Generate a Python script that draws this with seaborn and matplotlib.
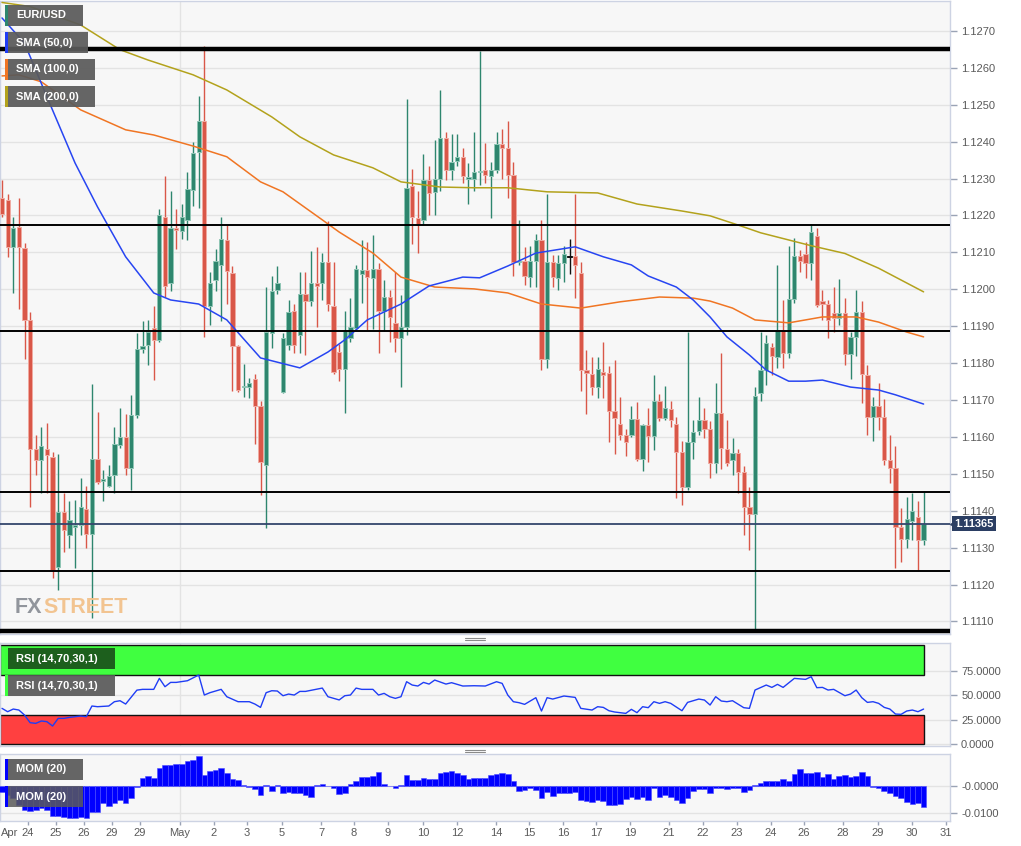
import numpy as np
import pandas as pd
import matplotlib
matplotlib.use("Agg")
import matplotlib.pyplot as plt
import matplotlib.transforms as mtransforms
from matplotlib.patches import Rectangle
from matplotlib.lines import Line2D
import seaborn as sns

sns.set_theme(style="white")
plt.rcParams['font.family'] = ['Liberation Sans', 'DejaVu Sans']

# ---------------- data (4h EUR/USD candles) ----------------
opens = [1.12248, 1.12241, 1.12115, 1.12169, 1.12113, 1.11916, 1.11568, 1.11537, 1.11568, 1.11546,
         1.11248, 1.11396, 1.11335, 1.11355, 1.11362, 1.11406, 1.11338, 1.11541, 1.11480, 1.11468,
         1.11498, 1.11578, 1.11599, 1.11517, 1.11659, 1.11838, 1.11849, 1.11895, 1.11862, 1.12195,
         1.12018, 1.12167, 1.12159, 1.12187, 1.12268, 1.12371, 1.12456, 1.11954, 1.12026, 1.12065,
         1.12133, 1.12044, 1.11845, 1.11734, 1.11734, 1.11756, 1.11683, 1.11524, 1.11882, 1.11998,
         1.11722, 1.11849, 1.11941, 1.11877, 1.11987, 1.11967, 1.12016, 1.12016, 1.12075, 1.11956,
         1.11829, 1.11783, 1.11867, 1.11896, 1.12041, 1.12053, 1.12031, 1.12055, 1.11941, 1.11980,
         1.11908, 1.11869, 1.11898, 1.12279, 1.12193, 1.12187, 1.12295, 1.12264, 1.12299, 1.12410,
         1.12323, 1.12348, 1.12359, 1.12299, 1.12300, 1.12318, 1.12323, 1.12307, 1.12323, 1.12394,
         1.12382, 1.12309, 1.12075, 1.12077, 1.12034, 1.12077, 1.12133, 1.11811, 1.12075, 1.12031,
         1.12072, 1.12087, 1.12089, 1.12043, 1.11780, 1.11770, 1.11734, 1.11775, 1.11773, 1.11670,
         1.11635, 1.11606, 1.11606, 1.11649, 1.11539, 1.11632, 1.11603, 1.11698, 1.11652, 1.11676,
         1.11635, 1.11560, 1.11463, 1.11585, 1.11617, 1.11646, 1.11621, 1.11529, 1.11666, 1.11567,
         1.11538, 1.11556, 1.11506, 1.11409, 1.11391, 1.11718, 1.11781, 1.11843, 1.11816, 1.11890,
         1.11828, 1.11973, 1.12090, 1.12096, 1.12070, 1.12143, 1.11967, 1.11959, 1.11935, 1.11921,
         1.11937, 1.11825, 1.11870, 1.11939, 1.11768, 1.11655, 1.11684, 1.11653, 1.11538, 1.11515,
         1.11357, 1.11324, 1.11371, 1.11384, 1.11321]
highs = [1.12297, 1.12258, 1.12197, 1.12248, 1.12126, 1.11939, 1.11606, 1.11626, 1.11637, 1.11560,
         1.11555, 1.11447, 1.11427, 1.11429, 1.11488, 1.11468, 1.11744, 1.11667, 1.11509, 1.11524,
         1.11626, 1.11678, 1.11662, 1.11713, 1.11882, 1.11913, 1.11918, 1.11956, 1.12217, 1.12307,
         1.12266, 1.12217, 1.12231, 1.12318, 1.12400, 1.12524, 1.12658, 1.12046, 1.12108, 1.12197,
         1.12174, 1.12062, 1.11850, 1.11797, 1.11760, 1.11770, 1.11698, 1.12005, 1.12036, 1.12064,
         1.11882, 1.11970, 1.11959, 1.12046, 1.12046, 1.12105, 1.12115, 1.12097, 1.12185, 1.12074,
         1.11852, 1.11941, 1.11975, 1.12067, 1.12133, 1.12127, 1.12148, 1.12072, 1.12026, 1.11998,
         1.12046, 1.11985, 1.12515, 1.12325, 1.12266, 1.12366, 1.12335, 1.12405, 1.12540, 1.12425,
         1.12420, 1.12420, 1.12384, 1.12343, 1.12425, 1.12645, 1.12397, 1.12346, 1.12425, 1.12435,
         1.12456, 1.12346, 1.12187, 1.12115, 1.12118, 1.12149, 1.12187, 1.12258, 1.12092, 1.12094,
         1.12118, 1.12136, 1.12258, 1.12074, 1.11836, 1.11816, 1.11816, 1.11857, 1.11793, 1.11808,
         1.11708, 1.11621, 1.11685, 1.11695, 1.11634, 1.11678, 1.11768, 1.11716, 1.11739, 1.11698,
         1.11655, 1.11589, 1.11885, 1.11647, 1.11707, 1.11678, 1.11642, 1.11747, 1.11827, 1.11646,
         1.11596, 1.11567, 1.11520, 1.11465, 1.11736, 1.11885, 1.11876, 1.11854, 1.12066, 1.11971,
         1.12116, 1.12138, 1.12107, 1.12127, 1.12177, 1.12165, 1.11998, 1.11971, 1.12005, 1.12027,
         1.11976, 1.11885, 1.11998, 1.11967, 1.11795, 1.11707, 1.11745, 1.11702, 1.11605, 1.11576,
         1.11407, 1.11437, 1.11447, 1.11427, 1.11450]
lows = [1.12195, 1.12087, 1.11990, 1.11947, 1.11811, 1.11409, 1.11498, 1.11449, 1.11449, 1.11217,
        1.11186, 1.11289, 1.11299, 1.11245, 1.11335, 1.11299, 1.11109, 1.11473, 1.11427, 1.11463,
        1.11449, 1.11570, 1.11498, 1.11457, 1.11652, 1.11826, 1.11795, 1.11754, 1.11857, 1.11980,
        1.11995, 1.12108, 1.12135, 1.12133, 1.12225, 1.12220, 1.11872, 1.11903, 1.11995, 1.11913,
        1.11959, 1.11724, 1.11722, 1.11708, 1.11705, 1.11582, 1.11442, 1.11353, 1.11841, 1.11988,
        1.11719, 1.11836, 1.11826, 1.11826, 1.11821, 1.11954, 1.11898, 1.11971, 1.11941, 1.11770,
        1.11752, 1.11665, 1.11857, 1.11890, 1.11964, 1.11890, 1.11893, 1.11826, 1.11888, 1.11857,
        1.11831, 1.11734, 1.11877, 1.12123, 1.12097, 1.12176, 1.12200, 1.12202, 1.12266, 1.12295,
        1.12295, 1.12333, 1.12287, 1.12231, 1.12266, 1.12282, 1.12287, 1.12193, 1.12316, 1.12299,
        1.12246, 1.12036, 1.12067, 1.12012, 1.12005, 1.12005, 1.11780, 1.11787, 1.12005, 1.11998,
        1.12021, 1.12041, 1.11975, 1.11724, 1.11662, 1.11713, 1.11705, 1.11705, 1.11585, 1.11553,
        1.11591, 1.11548, 1.11601, 1.11534, 1.11507, 1.11531, 1.11565, 1.11642, 1.11647, 1.11626,
        1.11435, 1.11416, 1.11457, 1.11539, 1.11605, 1.11596, 1.11488, 1.11502, 1.11512, 1.11520,
        1.11497, 1.11447, 1.11334, 1.11294, 1.11077, 1.11696, 1.11741, 1.11768, 1.11786, 1.11786,
        1.11813, 1.11964, 1.12048, 1.12030, 1.12025, 1.11953, 1.11917, 1.11867, 1.11885, 1.11903,
        1.11795, 1.11756, 1.11818, 1.11693, 1.11605, 1.11590, 1.11619, 1.11524, 1.11476, 1.11244,
        1.11262, 1.11298, 1.11321, 1.11237, 1.11307]
closes = [1.12205, 1.12115, 1.12167, 1.12115, 1.11916, 1.11568, 1.11537, 1.11575, 1.11550, 1.11239,
          1.11396, 1.11348, 1.11376, 1.11360, 1.11409, 1.11338, 1.11539, 1.11478, 1.11486, 1.11495,
          1.11580, 1.11599, 1.11517, 1.11659, 1.11838, 1.11847, 1.11885, 1.11862, 1.12200, 1.12008,
          1.12167, 1.12161, 1.12195, 1.12272, 1.12369, 1.12456, 1.11954, 1.12016, 1.12077, 1.12135,
          1.12049, 1.11845, 1.11726, 1.11739, 1.11746, 1.11683, 1.11531, 1.11885, 1.11995, 1.12016,
          1.11867, 1.11939, 1.11849, 1.11987, 1.11967, 1.12016, 1.12010, 1.12075, 1.11959, 1.11775,
          1.11783, 1.11887, 1.11898, 1.12055, 1.12053, 1.12033, 1.12055, 1.11941, 1.11980, 1.11925,
          1.11869, 1.11898, 1.12275, 1.12195, 1.12176, 1.12295, 1.12261, 1.12299, 1.12410, 1.12323,
          1.12346, 1.12359, 1.12307, 1.12305, 1.12318, 1.12321, 1.12309, 1.12323, 1.12394, 1.12384,
          1.12310, 1.12075, 1.12077, 1.12036, 1.12077, 1.12133, 1.11811, 1.12075, 1.12033, 1.12072,
          1.12095, 1.12087, 1.12067, 1.11780, 1.11773, 1.11734, 1.11785, 1.11767, 1.11670, 1.11652,
          1.11606, 1.11585, 1.11649, 1.11539, 1.11632, 1.11603, 1.11698, 1.11652, 1.11678, 1.11647,
          1.11558, 1.11465, 1.11585, 1.11613, 1.11646, 1.11621, 1.11529, 1.11666, 1.11569, 1.11529,
          1.11556, 1.11506, 1.11409, 1.11391, 1.11711, 1.11781, 1.11855, 1.11818, 1.11890, 1.11828,
          1.11973, 1.12090, 1.12077, 1.12070, 1.12156, 1.11958, 1.11960, 1.11917, 1.11921, 1.11935,
          1.11825, 1.11870, 1.11939, 1.11771, 1.11655, 1.11684, 1.11655, 1.11538, 1.11517, 1.11357,
          1.11324, 1.11377, 1.11398, 1.11321, 1.11365]

sma50_idx = [0, 4, 8, 13, 17, 22, 27, 30, 35, 40, 46, 53, 58, 61, 65, 71, 76, 82, 85, 90,
             95, 102, 107, 112, 115, 120, 123, 126, 129, 133, 136, 140, 143, 146, 151, 156, 159, 164]
sma50_val = [1.12735, 1.12667, 1.12521, 1.12342, 1.12223, 1.12088, 1.11990, 1.11971, 1.11960, 1.11917,
             1.11814, 1.11787, 1.11830, 1.11863, 1.11917, 1.11960, 1.12009, 1.12033, 1.12031, 1.12063,
             1.12098, 1.12115, 1.12088, 1.12066, 1.12036, 1.12006, 1.11971, 1.11925, 1.11871, 1.11822,
             1.11781, 1.11751, 1.11751, 1.11754, 1.11735, 1.11727, 1.11714, 1.11689]
sma100_idx = [0, 3, 7, 14, 22, 27, 34, 40, 46, 50, 57, 60, 66, 71, 77, 84, 90, 96, 103, 110,
              117, 123, 126, 130, 134, 140, 143, 146, 152, 156, 161, 164]
sma100_val = [1.12578, 1.12581, 1.12562, 1.12486, 1.12432, 1.12418, 1.12388, 1.12359, 1.12291, 1.12264,
              1.12188, 1.12155, 1.12098, 1.12033, 1.12006, 1.12001, 1.11990, 1.11960, 1.11949, 1.11966,
              1.11979, 1.11976, 1.11968, 1.11949, 1.11917, 1.11909, 1.11917, 1.11925, 1.11925, 1.11911,
              1.11884, 1.11871]
sma200_idx = [0, 5, 14, 21, 26, 34, 40, 48, 53, 59, 66, 71, 78, 84, 90, 97, 106, 113, 121, 126,
              131, 135, 144, 150, 156, 164]
sma200_val = [1.12777, 1.12766, 1.12716, 1.12649, 1.12621, 1.12581, 1.12540, 1.12467, 1.12413, 1.12364,
              1.12329, 1.12291, 1.12277, 1.12275, 1.12275, 1.12264, 1.12261, 1.12231, 1.12212, 1.12199,
              1.12174, 1.12153, 1.12118, 1.12097, 1.12057, 1.11993]

rsi_idx = [0, 1, 2, 3, 4, 5, 6, 7, 8, 9, 10, 11, 12, 14, 15, 16, 17, 19, 20, 21,
           22, 24, 25, 27, 28, 29, 30, 31, 33, 35, 36, 37, 39, 40, 42, 44, 45, 46, 47, 48,
           49, 50, 51, 52, 53, 54, 57, 58, 60, 61, 62, 63, 64, 66, 67, 68, 69, 70, 71, 72,
           73, 74, 75, 76, 77, 79, 80, 82, 84, 86, 88, 89, 90,
           91, 92, 93, 95, 96, 97, 98, 100, 102, 103, 105, 106, 107, 108, 109, 111, 112, 113, 114, 115,
           116, 117, 118, 119, 121, 122, 124, 125, 126, 127, 128, 129, 130, 132, 133, 134, 136, 137, 138, 139,
           141, 143, 144, 145, 146, 147, 148, 150, 151, 152, 153, 154, 155, 156, 157, 158, 159, 160, 161, 162,
           163, 164]
rsi_val = [36.4, 33.0, 35.7, 34.7, 29.6, 21.8, 21.1, 23.5, 22.8, 18.4, 26.2, 26.2, 27.2, 28.6, 27.9, 38.8, 38.1, 38.8, 43.2, 44.2,
           40.8, 55.0, 55.8, 55.8, 67.0, 58.5, 62.9, 62.9, 64.6, 70.4, 50.0, 52.4, 55.8, 48.3, 43.2, 43.2, 40.8, 37.4, 52.4, 54.4,
           54.1, 49.3, 51.0, 50.0, 53.7, 53.7, 57.1, 48.3, 45.0, 49.3, 50.0, 57.1, 55.8, 55.8, 50.0, 51.7, 48.3, 46.6, 48.3, 63.6,
           60.2, 59.2, 62.9, 61.2, 65.3, 61.2, 62.6, 59.2, 59.5, 59.2, 63.6, 61.9, 50.0,
           43.2, 42.2, 40.5, 47.3, 33.7, 47.3, 45.9, 49.0, 47.6, 36.4, 34.7, 38.1, 37.4, 34.0, 32.7, 31.3, 35.4, 32.0, 38.1, 37.1,
           43.2, 41.5, 43.2, 41.5, 34.0, 42.5, 45.9, 44.9, 39.8, 48.3, 43.9, 43.2, 44.2, 37.1, 36.4, 55.1, 60.2, 57.8, 60.9, 57.8,
           67.0, 66.0, 68.7, 57.5, 57.8, 55.1, 55.8, 49.3, 51.0, 55.1, 47.3, 42.5, 43.2, 41.5, 37.4, 35.7, 30.6, 30.3, 33.7, 34.7,
           33.0, 35.7]

mom_vals = [-0.0022, -0.0035, -0.0047, -0.0072, -0.0090, -0.0093, -0.0090, -0.0084, -0.0090, -0.0111,
            -0.0111, -0.0115, -0.0121, -0.0121, -0.0115, -0.0121, -0.0096, -0.0099, -0.0065, -0.0075,
            -0.0065, -0.0053, -0.0065, -0.0044, -0.0004, 0.0027, 0.0036, 0.0030, 0.0067, 0.0077,
            0.0077, 0.0080, 0.0080, 0.0093, 0.0095, 0.0110, 0.0040, 0.0054, 0.0058, 0.0064,
            0.0046, 0.0025, 0.0021, 0.0002, -0.0006, -0.0014, -0.0035, 0.0002, -0.0020, 0.0001,
            -0.0028, -0.0022, -0.0028, -0.0026, -0.0035, -0.0041, 0.0002, 0.0005, -0.0001, -0.0010,
            -0.0031, -0.0026, 0.0005, 0.0019, 0.0033, 0.0033, 0.0037, 0.0052, 0.0006, -0.0001,
            -0.0007, 0.0001, 0.0040, 0.0021, 0.0021, 0.0030, 0.0025, 0.0023, 0.0046, 0.0049,
            0.0056, 0.0048, 0.0040, 0.0026, 0.0027, 0.0030, 0.0027, 0.0040, 0.0042, 0.0046,
            0.0043, 0.0019, -0.0020, -0.0016, -0.0010, -0.0016, -0.0044, -0.0022, -0.0037, -0.0026,
            -0.0026, -0.0028, -0.0025, -0.0053, -0.0056, -0.0059, -0.0053, -0.0056, -0.0072, -0.0072,
            -0.0069, -0.0049, -0.0043, -0.0049, -0.0041, -0.0053, -0.0010, -0.0041, -0.0035, -0.0043,
            -0.0053, -0.0063, -0.0047, -0.0019, -0.0014, -0.0012, -0.0028, -0.0010, -0.0010, -0.0012,
            -0.0007, -0.0007, -0.0025, -0.0016, 0.0002, 0.0009, 0.0017, 0.0017, 0.0019, 0.0023,
            0.0017, 0.0042, 0.0062, 0.0048, 0.0046, 0.0052, 0.0033, 0.0043, 0.0025, 0.0036,
            0.0040, 0.0033, 0.0037, 0.0052, 0.0037, -0.0004, -0.0007, -0.0020, -0.0028, -0.0037,
            -0.0047, -0.0062, -0.0068, -0.0065, -0.0078]

level_lines = [1.12650, 1.12173, 1.11888, 1.11450, 1.11237, 1.11075]
level_heavy = [True, False, False, False, False, True]
last_price = 1.11365
price_ticks = [1.1110, 1.1120, 1.1130, 1.1140, 1.1150, 1.1160, 1.1170, 1.1180,
               1.1190, 1.1200, 1.1210, 1.1220, 1.1230, 1.1240, 1.1250, 1.1260, 1.1270]
rsi_ticks = [0, 25, 50, 75]
rsi_bands = [(70, 100.8), (0, 30)]
mom_ticks = [-0.01, 0.0]
mom_ticklabels = ["-0.0100", "-0.0000"]
xtick_pos = [4.63, 9.61, 14.59, 19.57, 24.56, 31.67, 37.72, 43.59, 49.82, 56.76, 62.63, 68.68,
             74.91, 80.96, 87.9, 93.77, 99.82, 105.7, 111.74, 118.68, 124.73, 130.78, 136.83,
             142.7, 149.64, 155.87, 161.92, 167.97]
xtick_labels = ["24", "25", "26", "29", "29", "May", "2", "3", "5", "7", "8", "9", "10", "12", "14",
                "15", "16", "17", "19", "21", "22", "23", "24", "26", "28", "29", "30", "31"]
may_pos = 31.67

# ---------------- layout ----------------
W, H = 1021, 846
fig = plt.figure(figsize=(W / 100, H / 100), dpi=100)
fig.patch.set_facecolor("white")


def rect(x0, y0, x1, y1):
    return [x0 / W, 1 - y1 / H, (x1 - x0) / W, (y1 - y0) / H]


ax = fig.add_axes(rect(0, 1, 950, 634))
ax_rsi = fig.add_axes(rect(0, 643, 950, 746))
ax_mom = fig.add_axes(rect(0, 754, 950, 821))

BG = "#f7f7f7"
SPINE = "#cdd3e3"
GRID = "#e3e3e3"
TXT = "#5a5a5a"
n = len(opens)
x = np.arange(n)
XL = (-0.36, 168.7)

for a in (ax, ax_rsi, ax_mom):
    a.set_facecolor(BG)
    a.set_xlim(*XL)
    for s in a.spines.values():
        s.set_color(SPINE)
        s.set_linewidth(1)
    a.yaxis.tick_right()
    a.tick_params(axis="y", direction="out", length=5, width=1, color="#9aa3b5",
                  labelsize=8, labelcolor=TXT, pad=3, right=True, left=False)
    a.set_axisbelow(True)
    a.axvline(may_pos, color=GRID, lw=1, zorder=0)

# ---------------- main price panel ----------------
ax.set_ylim(1.11066, 1.12781)
ax.set_yticks(price_ticks)
ax.set_yticklabels([f"{v:.4f}" for v in price_ticks])
ax.grid(axis="y", color=GRID, lw=1)
ax.tick_params(axis="x", bottom=False, labelbottom=False)

o = np.array(opens); c = np.array(closes); h = np.array(highs); l = np.array(lows)
UP, DN, DOJI = "#2e866e", "#d95748", "#111111"
UP_E, DN_E = "#8fc6b5", "#f0aaa1"
cols = np.where(c > o, UP, np.where(c < o, DN, DOJI))
ecols = np.where(c > o, UP_E, np.where(c < o, DN_E, DOJI))
ax.vlines(x, l, h, colors=cols, lw=1.0, zorder=3)
body_lo = np.minimum(o, c)
body_h = np.maximum(np.abs(c - o), 0.000025)
ax.bar(x, body_h, bottom=body_lo, width=0.76, color=cols, edgecolor=ecols, linewidth=0.7, zorder=4)

sns.lineplot(x=sma200_idx, y=sma200_val, ax=ax, color="#b3a21c", lw=1.1, zorder=5, legend=False)
sns.lineplot(x=sma100_idx, y=sma100_val, ax=ax, color="#f07523", lw=1.1, zorder=5, legend=False)
sns.lineplot(x=sma50_idx, y=sma50_val, ax=ax, color="#2745f2", lw=1.1, zorder=5, legend=False)

for v, heavy in zip(level_lines, level_heavy):
    ax.axhline(v, color="black", lw=3.2 if heavy else 1.4, zorder=6)
ax.axhline(last_price, color="#34466c", lw=1.3, zorder=6)

blend = mtransforms.blended_transform_factory(ax.transAxes, ax.transData)
ax.text(1.0045, last_price, f"{last_price:.5f}", transform=blend, ha="left", va="center",
        color="white", fontsize=8, fontweight="bold", clip_on=False, zorder=10,
        bbox=dict(boxstyle="square,pad=0.22", fc="#2b3e63", ec="none"))
ax.plot([1.0035], [last_price], marker="<", ms=4, color="#2b3e63", transform=blend,
        clip_on=False, zorder=10)

# FXSTREET watermark (second word anchored to the right edge of the first)
fx = fig.text(15 / W, 1 - 613 / H, "FX", color="#8c9097", fontsize=15.5, fontweight="bold",
              va="baseline", ha="left", alpha=0.95)
fig.canvas.draw()
ax.annotate("STREET", xy=(1, 0), xycoords=fx, xytext=(1, 0), textcoords="offset points",
            color="#f2c28c", fontsize=15.5, fontweight="bold", ha="left", va="bottom",
            alpha=0.95, annotation_clip=False)

# ---------------- RSI panel ----------------
ax_rsi.set_ylim(-2.0, 103.1)
ax_rsi.set_yticks(rsi_ticks)
ax_rsi.set_yticklabels([f"{v:.4f}" for v in rsi_ticks])
ax_rsi.grid(axis="y", color=GRID, lw=1)
ax_rsi.tick_params(axis="x", bottom=False, labelbottom=False)
band_cols = ["#40ff40", "#ff4040"]
for (b0, b1), bc in zip(rsi_bands, band_cols):
    ax_rsi.add_patch(Rectangle((XL[0], b0), (n - 1) - XL[0], b1 - b0, fc=bc, ec="#111111",
                               lw=1, zorder=2))
sns.lineplot(x=rsi_idx, y=rsi_val, ax=ax_rsi, color="#1f3df5", lw=1.0, zorder=4, legend=False)

# ---------------- MOM panel ----------------
ax_mom.set_ylim(-0.01307, 0.01174)
ax_mom.set_yticks(mom_ticks)
ax_mom.set_yticklabels(mom_ticklabels)
ax_mom.grid(axis="y", color=GRID, lw=1)
ax_mom.bar(x, mom_vals, width=1.0, color="#0000ff", edgecolor="#4a4aff", linewidth=0.4, zorder=3)
ax_mom.set_xticks(xtick_pos)
ax_mom.set_xticklabels(xtick_labels)
ax_mom.tick_params(axis="x", direction="out", length=3, width=1, color="#9aa3b5",
                   labelsize=8, labelcolor=TXT, pad=2, bottom=True)
ax_mom.annotate("Apr", xy=(0, 0), xycoords="axes fraction", xytext=(1, -5),
                textcoords="offset points", ha="left", va="top", fontsize=8, color=TXT)

for a in (ax, ax_rsi, ax_mom):
    a.set_xlim(*XL)
    a.set_xlabel("")
    a.set_ylabel("")


# ---------------- legend boxes ----------------
def label_box(x0, y0, x1, y1, text, strip, face="#5a5a5a", alpha=0.93):
    fig.add_artist(Rectangle((x0 / W, 1 - y1 / H), (x1 - x0) / W, (y1 - y0) / H,
                             transform=fig.transFigure, fc=face, ec="none", alpha=alpha, zorder=20))
    fig.add_artist(Rectangle((x0 / W, 1 - y1 / H), 2.5 / W, (y1 - y0) / H,
                             transform=fig.transFigure, fc=strip, ec="none", zorder=21))
    fig.text((x0 + 11) / W, 1 - ((y0 + y1) / 2) / H, text, color="white", fontsize=8,
             fontweight="bold", va="center", ha="left", zorder=22)


label_box(5, 5, 83, 26, "EUR/USD", "#2e866e")
label_box(5, 32, 88, 53, "SMA (50,0)", "#1f3df5")
label_box(5, 59, 95, 80, "SMA (100,0)", "#f07523")
label_box(5, 86, 95, 107, "SMA (200,0)", "#b3a21c")
label_box(5, 648, 115, 669, "RSI (14,70,30,1)", "#3cff3c", face="#1c5a1c", alpha=0.97)
label_box(5, 675, 115, 696, "RSI (14,70,30,1)", "#3cff3c")
label_box(5, 759, 83, 780, "MOM (20)", "#0000ff")
label_box(5, 786, 83, 807, "MOM (20)", "#0000ff", alpha=0.85)

# panel grips
for yy in (637.5, 640.0, 749.5, 752.0):
    fig.add_artist(Line2D([465 / W, 485 / W], [1 - yy / H, 1 - yy / H], transform=fig.transFigure,
                          color="#8a8a8a", lw=0.8))

fig.savefig("out.png", dpi=100, facecolor="white")
